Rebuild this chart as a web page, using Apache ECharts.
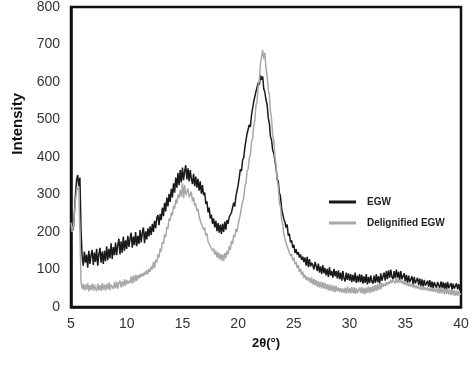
<!DOCTYPE html>
<html><head><meta charset="utf-8">
<script src="https://cdn.jsdelivr.net/npm/echarts@6/dist/echarts.min.js"></script>
<style>html,body{margin:0;padding:0;background:#fff}#c{width:474px;height:370px}</style>
</head><body><div id="c"></div>
<script>
// 2θ sampling: start 5°, step 0.1°
const thetaStart = 5;
const thetaStep = 0.1;
const seriesNames = ['EGW', 'Delignified EGW'];
const xTicks = [5, 10, 15, 20, 25, 30, 35, 40];
const yTicks = [0, 100, 200, 300, 400, 500, 600, 700, 800];

const egw = [
232,212,205,248,300,338,352,322,345,205,
135,110,148,118,140,105,150,115,138,152,
112,145,120,155,110,140,158,118,148,115,
150,122,162,125,155,130,170,128,160,138,
172,138,165,182,140,175,145,188,150,178,
155,190,160,182,198,158,188,165,200,162,
190,168,205,172,198,212,170,202,180,210,
188,215,192,222,200,230,210,238,245,218,
248,232,265,242,278,255,292,268,302,280,
315,292,330,305,345,318,358,325,365,332,
372,338,362,378,340,370,335,365,342,328,
355,322,348,318,342,310,335,302,325,298,
305,275,282,252,265,236,246,222,236,212,
230,202,224,198,220,195,222,200,228,206,
232,222,240,236,252,250,278,268,295,292,
325,345,368,362,392,398,425,428,462,458,
486,480,512,515,548,545,575,572,598,592,
618,606,615,582,572,552,540,505,490,455,
445,418,410,390,372,342,335,305,295,262,
258,235,226,212,220,190,196,172,178,158,
166,144,154,140,146,132,140,126,134,120,
132,110,134,106,128,108,118,112,100,120,
110,96,116,92,108,88,112,90,104,84,
102,80,106,84,96,78,102,82,96,76,
98,74,92,70,96,76,68,92,72,90,
70,88,66,86,68,92,64,84,66,88,
66,86,62,82,64,88,60,80,64,84,
68,62,84,64,88,66,82,62,90,70,
72,92,70,96,74,98,78,100,80,74,
96,76,100,78,94,72,96,74,70,90,
68,86,64,84,66,62,82,60,80,63,
58,78,58,76,56,74,54,72,57,52,
70,54,72,52,68,50,66,70,51,67,
64,50,68,51,66,48,64,47,67,50,
48,64,46,62,49,45,63,47,61,44,
58];

const delignified = [
225,200,212,248,282,310,320,312,200,66,
48,62,44,60,46,64,42,58,46,62,
44,60,48,42,62,45,58,43,64,46,
60,44,62,47,66,45,60,64,48,66,
50,68,49,64,70,52,68,55,74,57,
72,62,70,64,82,62,84,66,86,70,
85,76,88,80,90,82,94,86,98,88,
102,94,108,100,120,104,126,118,140,132,
156,148,174,168,194,186,214,208,236,230,
252,244,270,262,286,276,300,290,312,294,
330,290,325,298,302,316,292,300,308,282,
292,270,276,256,262,240,244,222,226,206,
212,190,196,174,178,162,166,150,156,140,
150,132,146,128,142,124,140,122,144,130,
150,140,162,152,176,168,192,186,208,200,
220,218,248,250,282,290,322,330,362,368,
398,405,440,448,485,498,538,548,588,605,
648,648,685,662,678,634,618,580,566,522,
502,458,442,398,380,338,322,278,268,232,
220,194,194,170,172,154,156,136,142,124,
132,114,120,104,112,93,102,85,94,78,
86,72,81,70,78,64,79,60,75,58,
72,54,69,52,67,50,66,49,64,47,
61,44,60,43,58,41,57,40,56,42,
52,40,50,39,49,38,51,36,54,38,
51,36,53,37,52,35,51,37,34,52,
37,53,36,51,34,52,38,54,37,53,
39,56,41,58,43,61,45,62,47,64,
53,62,56,66,59,68,62,72,64,73,
78,63,79,64,74,65,72,63,70,60,
68,58,65,55,63,54,61,52,60,50,
58,49,56,47,55,45,54,46,53,44,
52,43,51,42,50,41,49,40,51,37,
51,36,52,37,50,34,49,35,48,33,
47,32,46,31,45,30,44,29,43,33,
36];

function pairs(arr) {
  return arr.map((v, i) => [+(thetaStart + i * thetaStep).toFixed(2), v]);
}

const chart = echarts.init(document.getElementById('c'), null, {renderer: 'canvas'});
const labelFont = {fontFamily: 'Liberation Sans, Arial, sans-serif', fontSize: 14, color: '#333'};
chart.setOption({
  animation: false,
  backgroundColor: '#fff',
  grid: {left: 71, right: 13, top: 7, bottom: 63, show: true, borderColor: '#111', borderWidth: 2.5, containLabel: false},
  xAxis: {
    type: 'value', min: xTicks[0], max: xTicks[xTicks.length - 1], interval: 5,
    axisLine: {show: true, lineStyle: {color: '#111', width: 2.5}},
    axisTick: {show: false}, splitLine: {show: false},
    axisLabel: Object.assign({margin: 10}, labelFont),
    name: '2θ(°)', nameLocation: 'middle', nameGap: 30,
    nameTextStyle: {fontFamily: 'Liberation Sans, Arial, sans-serif', fontSize: 13, fontWeight: 'bold', color: '#111'}
  },
  yAxis: {
    type: 'value', min: yTicks[0], max: yTicks[yTicks.length - 1], interval: 100,
    axisLine: {show: true, lineStyle: {color: '#111', width: 2.5}},
    axisTick: {show: false}, splitLine: {show: false},
    axisLabel: Object.assign({margin: 11}, labelFont)
  },
  legend: {
    orient: 'vertical', left: 324, top: 191, itemWidth: 27, itemHeight: 3, itemGap: 9,
    icon: 'rect',
    textStyle: {fontFamily: 'Liberation Sans, Arial, sans-serif', fontSize: 10, fontWeight: 'bold', color: '#222', padding: [0, 0, 0, 6], lineHeight: 12},
    data: seriesNames
  },
  graphic: [{
    type: 'text', left: 10, top: 93, rotation: Math.PI / 2,
    style: {text: 'Intensity', font: 'bold 15px "Liberation Sans", Arial, sans-serif', fill: '#111'}
  }],
  series: [
    {name: seriesNames[0], type: 'line', data: pairs(egw), showSymbol: false, symbol: 'none',
     lineStyle: {color: '#1a1a1a', width: 1.5}, itemStyle: {color: '#1a1a1a'}},
    {name: seriesNames[1], type: 'line', data: pairs(delignified), showSymbol: false, symbol: 'none',
     lineStyle: {color: '#a8a8a8', width: 1.5}, itemStyle: {color: '#a8a8a8'}}
  ]
});
</script></body></html>
